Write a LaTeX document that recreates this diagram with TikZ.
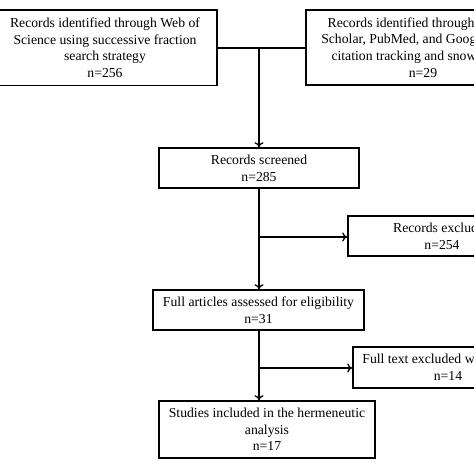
\documentclass[tikz,border=0pt]{standalone}
\usepackage{fontspec}
\setmainfont{Liberation Serif}
\usetikzlibrary{arrows.meta}
\tikzset{
  box/.style={draw, line width=1.6pt, align=center, inner sep=0pt,
    font=\fontsize{13.7}{16.7}\selectfont},
  conn/.style={line width=1.5pt},
  arr/.style={line width=1.5pt, -{To[length=5pt,width=9pt,line width=1.3pt]}},
}
\begin{document}
\begin{tikzpicture}[x=1pt,y=-1pt]
\clip (0,0) rectangle (474,474);
\fill[white] (0,0) rectangle (474,474);
\node[box, minimum width=224pt, minimum height=75.5pt] (A) at (105,47.75)
  {Records identified through Web of\\Science using successive fraction\\search strategy\\n=256};
\node[box, minimum width=234pt, minimum height=75pt] (B) at (423,47.5)
  {Records identified through Google\\Scholar, PubMed, and Google Books\\citation tracking and snowballing\\n=29};
\node[box, minimum width=200pt, minimum height=40pt] (C) at (259,168)
  {Records screened\\n=285};
\node[box, minimum width=188pt, minimum height=40pt] (D) at (442,236)
  {Records excluded\\n=254};
\node[box, minimum width=211pt, minimum height=40pt] (E) at (258.5,310)
  {Full articles assessed for eligibility\\n=31};
\node[box, minimum width=190pt, minimum height=41pt] (F) at (448,367.5)
  {Full text excluded with reasons\\n=14};
\node[box, minimum width=216pt, minimum height=57pt] (G) at (267,429.5)
  {Studies included in the hermeneutic\\analysis\\n=17};
\coordinate (j1) at (259,48);
\coordinate (j2) at (259,237);
\coordinate (j3) at (259,368);
\draw[conn] (A.east |- j1) -- (B.west |- j1);
\draw[arr] (j1) -- (j1 |- C.north);
\draw[arr] (C.south -| j2) -- (j2 |- E.north);
\draw[arr] (j2) -- (D.west |- j2);
\draw[arr] (E.south -| j3) -- (j3 |- G.north);
\draw[arr] (j3) -- (F.west |- j3);
\end{tikzpicture}
\end{document}
